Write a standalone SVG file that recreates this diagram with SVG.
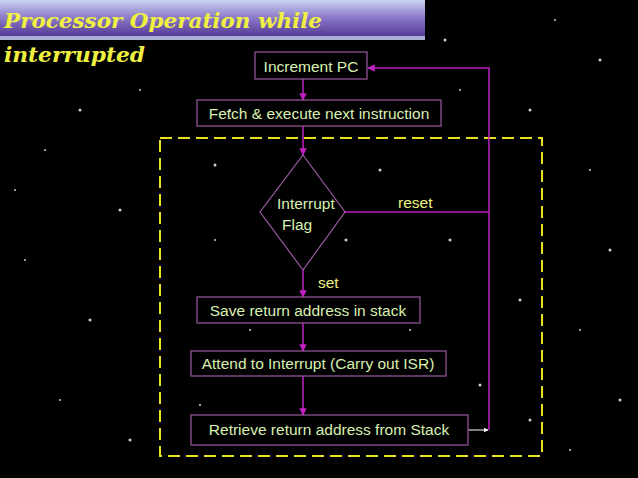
<svg xmlns="http://www.w3.org/2000/svg" width="638" height="478" viewBox="0 0 638 478">
<defs>
<linearGradient id="bar" x1="0" y1="0" x2="0" y2="1">
<stop offset="0" stop-color="#c8d4f0"/><stop offset="0.45" stop-color="#8a78c8"/><stop offset="1" stop-color="#4a2c8a"/>
</linearGradient>
<marker id="ah" viewBox="0 0 10 10" refX="9" refY="5" markerWidth="5" markerHeight="5" orient="auto"><path d="M0,0L10,5L0,10z" fill="#c020c0"/></marker>
<marker id="aw" viewBox="0 0 10 10" refX="9" refY="5" markerWidth="5" markerHeight="5" orient="auto"><path d="M0,0L10,5L0,10z" fill="#ffffff"/></marker>
</defs>
<style>
.box{fill:none;stroke:#9a5aa0;stroke-width:1.2}
.t{font-family:"Liberation Sans",Arial,sans-serif;font-size:15.5px;fill:#d8f0b0}
.lab{font-family:"Liberation Sans",Arial,sans-serif;font-size:15.5px;fill:#f0f080}
.c{stroke:#c020c0;stroke-width:1.5;fill:none}
.ti{font-family:"DejaVu Serif",serif;font-style:italic;font-weight:bold;font-size:21px;fill:#f0f040}
</style>
<rect width="638" height="478" fill="#000"/>
<g id="stars" fill="#ccd">
<circle cx="80" cy="110" r="1.5"/><circle cx="45" cy="150" r="1"/><circle cx="120" cy="210" r="1.5"/><circle cx="25" cy="260" r="1"/><circle cx="90" cy="320" r="1.5"/><circle cx="60" cy="400" r="1"/><circle cx="130" cy="440" r="1.5"/><circle cx="15" cy="190" r="1"/><circle cx="140" cy="90" r="1"/><circle cx="445" cy="40" r="1.5"/><circle cx="555" cy="20" r="1"/><circle cx="600" cy="60" r="1.5"/><circle cx="530" cy="110" r="1.5"/><circle cx="590" cy="170" r="1"/><circle cx="610" cy="250" r="1.5"/><circle cx="580" cy="330" r="1"/><circle cx="620" cy="400" r="1.5"/><circle cx="570" cy="450" r="1"/><circle cx="215" cy="165" r="1.5"/><circle cx="380" cy="170" r="1.5"/><circle cx="450" cy="240" r="1.5"/><circle cx="346" cy="240" r="1.5"/><circle cx="215" cy="240" r="1"/><circle cx="520" cy="300" r="1.5"/><circle cx="480" cy="385" r="1.5"/><circle cx="200" cy="405" r="1"/><circle cx="250" cy="330" r="1"/><circle cx="410" cy="330" r="1"/><circle cx="530" cy="420" r="1.5"/><circle cx="230" cy="110" r="1"/><circle cx="460" cy="90" r="1"/><circle cx="300" cy="30" r="1"/>
</g>
<g id="title">
<rect x="0" y="0" width="425" height="40" fill="url(#bar)"/>
<rect x="0" y="36" width="425" height="4" fill="#a8b0d8"/>
<text class="ti" x="4" y="28" textLength="318" lengthAdjust="spacingAndGlyphs">Processor Operation while</text>
<text class="ti" x="4" y="62" textLength="141" lengthAdjust="spacingAndGlyphs">interrupted</text>
</g>
<rect id="frame" x="160" y="138" width="382" height="318" fill="none" stroke="#e8e020" stroke-width="2" stroke-dasharray="12,6"/>
<g id="connectors">
<path class="c" d="M303,79V100" marker-end="url(#ah)"/>
<path class="c" d="M303,126V155" marker-end="url(#ah)"/>
<path class="c" d="M303,270V297" marker-end="url(#ah)"/>
<path class="c" d="M303,323V351" marker-end="url(#ah)"/>
<path class="c" d="M303,376V415" marker-end="url(#ah)"/>
<path class="c" d="M345,212H489"/>
<path class="c" d="M489,430V68H368" marker-end="url(#ah)"/>
<path d="M468,430H488" stroke="#fff" stroke-width="1" marker-end="url(#aw)"/>
<text class="lab" x="398" y="208">reset</text>
<text class="lab" x="318" y="288">set</text>
</g>
<g id="inc"><rect class="box" x="255" y="52" width="112" height="27"/><text class="t" x="311" y="72" text-anchor="middle">Increment PC</text></g>
<g id="fetch"><rect class="box" x="197" y="100" width="244" height="26"/><text class="t" x="319" y="119" text-anchor="middle">Fetch &amp; execute next instruction</text></g>
<g id="flag"><path class="box" d="M303,155L345,212L303,270L260,212Z"/><text class="t" x="277" y="209">Interrupt</text><text class="t" x="282" y="230">Flag</text></g>
<g id="save"><rect class="box" x="197" y="297" width="223" height="26"/><text class="t" x="308" y="316" text-anchor="middle">Save return address in stack</text></g>
<g id="attend"><rect class="box" x="191" y="351" width="255" height="25"/><text class="t" x="318" y="369" text-anchor="middle">Attend to Interrupt (Carry out ISR)</text></g>
<g id="retrieve"><rect class="box" x="191" y="415" width="277" height="30"/><text class="t" x="329" y="435" text-anchor="middle">Retrieve return address from Stack</text></g>
</svg>
